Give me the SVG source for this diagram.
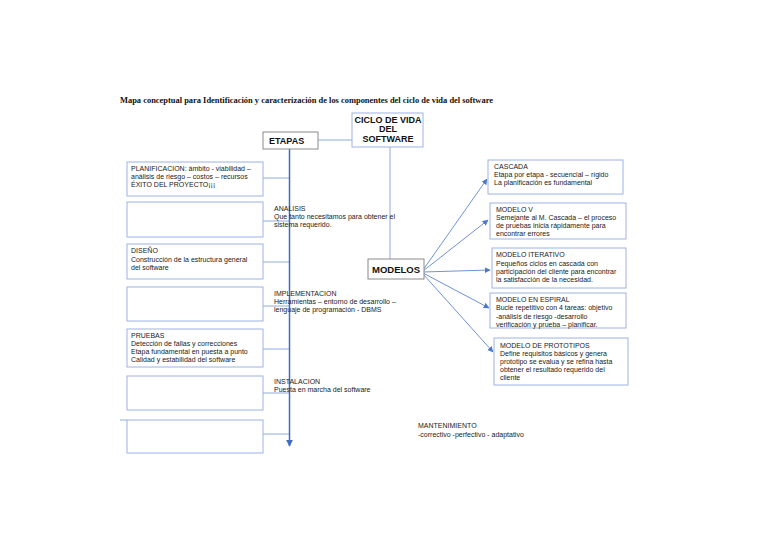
<svg xmlns="http://www.w3.org/2000/svg" width="768" height="543" viewBox="0 0 768 543">
<defs>
<style>
.t{font-family:"Liberation Sans",Arial,sans-serif;font-size:7px;fill:#222}
.h{font-family:"Liberation Sans",Arial,sans-serif;font-weight:bold;fill:#111}
.title{font-family:"Liberation Serif","Times New Roman",serif;font-weight:bold;font-size:9px;fill:#111}
.bx{fill:#fff;stroke:#9db4e4;stroke-width:1}
.gb{fill:#fff;stroke:#8a8a8a;stroke-width:1}
.cn{stroke:#8eaade;stroke-width:1;fill:none}
.ar{stroke:#6f93d8;stroke-width:1;fill:none;marker-end:url(#ah)}
</style>
<marker id="ah" viewBox="0 0 10 10" refX="9" refY="5" markerWidth="6" markerHeight="6" orient="auto" markerUnits="userSpaceOnUse">
<path d="M0,0 L10,5 L0,10 z" fill="#4a78cf"/>
</marker>
<marker id="ahm" viewBox="0 0 10 10" refX="9" refY="5" markerWidth="7" markerHeight="7" orient="auto" markerUnits="userSpaceOnUse">
<path d="M0,0 L10,5 L0,10 z" fill="#3d6cc9"/>
</marker>
</defs>
<rect width="768" height="543" fill="#fff"/>
<text class="title" x="120" y="103" textLength="373" lengthAdjust="spacingAndGlyphs">Mapa conceptual para Identificación y caracterización de los componentes del ciclo de vida del software</text>

<g id="connectors">
<line class="cn" x1="318" y1="140" x2="352" y2="140"/>
<line class="cn" x1="390" y1="147" x2="390" y2="259"/>
<line class="cn" x1="256" y1="178" x2="289" y2="178"/>
<line class="cn" x1="256" y1="221" x2="289" y2="221"/>
<line class="cn" x1="256" y1="262" x2="289" y2="262"/>
<line class="cn" x1="256" y1="306" x2="289" y2="306"/>
<line class="cn" x1="256" y1="349" x2="289" y2="349"/>
<line class="cn" x1="256" y1="393" x2="289" y2="393"/>
<line class="cn" x1="256" y1="434" x2="289" y2="434"/>
<line class="cn" x1="120" y1="420" x2="127" y2="420"/>
<line x1="289.5" y1="149" x2="289.5" y2="446" stroke="#3d6cc9" stroke-width="1.5" marker-end="url(#ahm)"/>
<line class="ar" x1="423" y1="270" x2="487" y2="179"/>
<line class="ar" x1="423" y1="271" x2="488" y2="220"/>
<line class="ar" x1="423" y1="272" x2="490" y2="270"/>
<line class="ar" x1="423" y1="273" x2="489" y2="308"/>
<line class="ar" x1="423" y1="274" x2="493" y2="352"/>
</g>

<g id="ciclo">
<rect class="bx" x="352" y="113" width="71" height="34"/>
<text class="h" font-size="9" text-anchor="middle" x="388" y="123">CICLO DE VIDA</text>
<text class="h" font-size="9" text-anchor="middle" x="388" y="132">DEL</text>
<text class="h" font-size="9" text-anchor="middle" x="388" y="142">SOFTWARE</text>
</g>
<g id="etapas">
<rect class="gb" x="263" y="132" width="55" height="17"/>
<text class="h" font-size="9" x="269" y="144">ETAPAS</text>
</g>
<g id="modelos">
<rect class="gb" x="368" y="259" width="56" height="20"/>
<text class="h" font-size="9.5" text-anchor="middle" x="396" y="273">MODELOS</text>
</g>

<g id="planificacion">
<rect class="bx" x="127" y="162" width="136" height="34"/>
<text class="t" x="131" y="171">PLANIFICACION:  ámbito - viabilidad –</text>
<text class="t" x="131" y="179">análisis de riesgo – costos – recursos</text>
<text class="t" x="131" y="187">ÉXITO DEL PROYECTO¡¡¡</text>
</g>
<g id="box-analisis">
<rect class="bx" x="127" y="202" width="136" height="35"/>
</g>
<g id="diseno">
<rect class="bx" x="127" y="244" width="136" height="35"/>
<text class="t" x="131" y="253">DISEÑO</text>
<text class="t" x="131" y="262">Construcción de la estructura general</text>
<text class="t" x="131" y="270">del software</text>
</g>
<g id="box-implementacion">
<rect class="bx" x="127" y="287" width="136" height="34"/>
</g>
<g id="pruebas">
<rect class="bx" x="127" y="329" width="136" height="38"/>
<text class="t" x="131" y="338">PRUEBAS</text>
<text class="t" x="131" y="346">Detección de fallas y correcciones</text>
<text class="t" x="131" y="354">Etapa fundamental en puesta a punto</text>
<text class="t" x="131" y="362">Calidad y estabilidad del software</text>
</g>
<g id="box-instalacion">
<rect class="bx" x="127" y="376" width="136" height="34"/>
</g>
<g id="box-mantenimiento">
<rect class="bx" x="127" y="420" width="136" height="33"/>
</g>

<g id="analisis">
<text class="t" x="274" y="211">ANALISIS</text>
<text class="t" x="274" y="219">Que tanto necesitamos para obtener el</text>
<text class="t" x="274" y="227">sistema requerido.</text>
</g>
<g id="implementacion">
<text class="t" x="274" y="296">IMPLEMENTACION</text>
<text class="t" x="274" y="304">Herramientas – entorno de desarrollo –</text>
<text class="t" x="274" y="312">lenguaje de programación - DBMS</text>
</g>
<g id="instalacion">
<text class="t" x="274" y="384">INSTALACION</text>
<text class="t" x="274" y="392">Puesta en marcha del software</text>
</g>

<g id="cascada">
<rect class="bx" x="488" y="160" width="135" height="34"/>
<text class="t" x="494" y="169">CASCADA</text>
<text class="t" x="494" y="177">Etapa por etapa - secuencial – rígido</text>
<text class="t" x="494" y="185">La planificación es fundamental</text>
</g>
<g id="modelo-v">
<rect class="bx" x="490" y="203" width="136" height="36"/>
<text class="t" x="496" y="212">MODELO V</text>
<text class="t" x="496" y="220">Semejante al M. Cascada – el proceso</text>
<text class="t" x="496" y="228">de pruebas inicia rápidamente para</text>
<text class="t" x="496" y="236">encontrar errores</text>
</g>
<g id="iterativo">
<rect class="bx" x="492" y="248" width="134" height="40"/>
<text class="t" x="496" y="257">MODELO ITERATIVO</text>
<text class="t" x="496" y="266">Pequeños ciclos en cascada con</text>
<text class="t" x="496" y="274">participación del cliente para encontrar</text>
<text class="t" x="496" y="282">la satisfacción de la necesidad.</text>
</g>
<g id="espiral">
<rect class="bx" x="490" y="293" width="136" height="35"/>
<text class="t" x="496" y="302">MODELO EN ESPIRAL</text>
<text class="t" x="496" y="310">Bucle repetitivo con 4 tareas: objetivo</text>
<text class="t" x="496" y="319">-análisis de riesgo -desarrollo</text>
<text class="t" x="496" y="327">verificación y prueba – planificar.</text>
</g>
<g id="prototipos">
<rect class="bx" x="494" y="338" width="134" height="47"/>
<text class="t" x="500" y="348">MODELO DE PROTOTIPOS</text>
<text class="t" x="500" y="356">Define requisitos básicos y genera</text>
<text class="t" x="500" y="364">prototipo se evalua y se refina hasta</text>
<text class="t" x="500" y="372">obtener el resultado requerido del</text>
<text class="t" x="500" y="380">cliente</text>
</g>
<g id="mantenimiento">
<text class="t" x="418" y="428">MANTENIMIENTO</text>
<text class="t" x="418" y="437">-correctivo -perfectivo - adaptativo</text>
</g>
</svg>
